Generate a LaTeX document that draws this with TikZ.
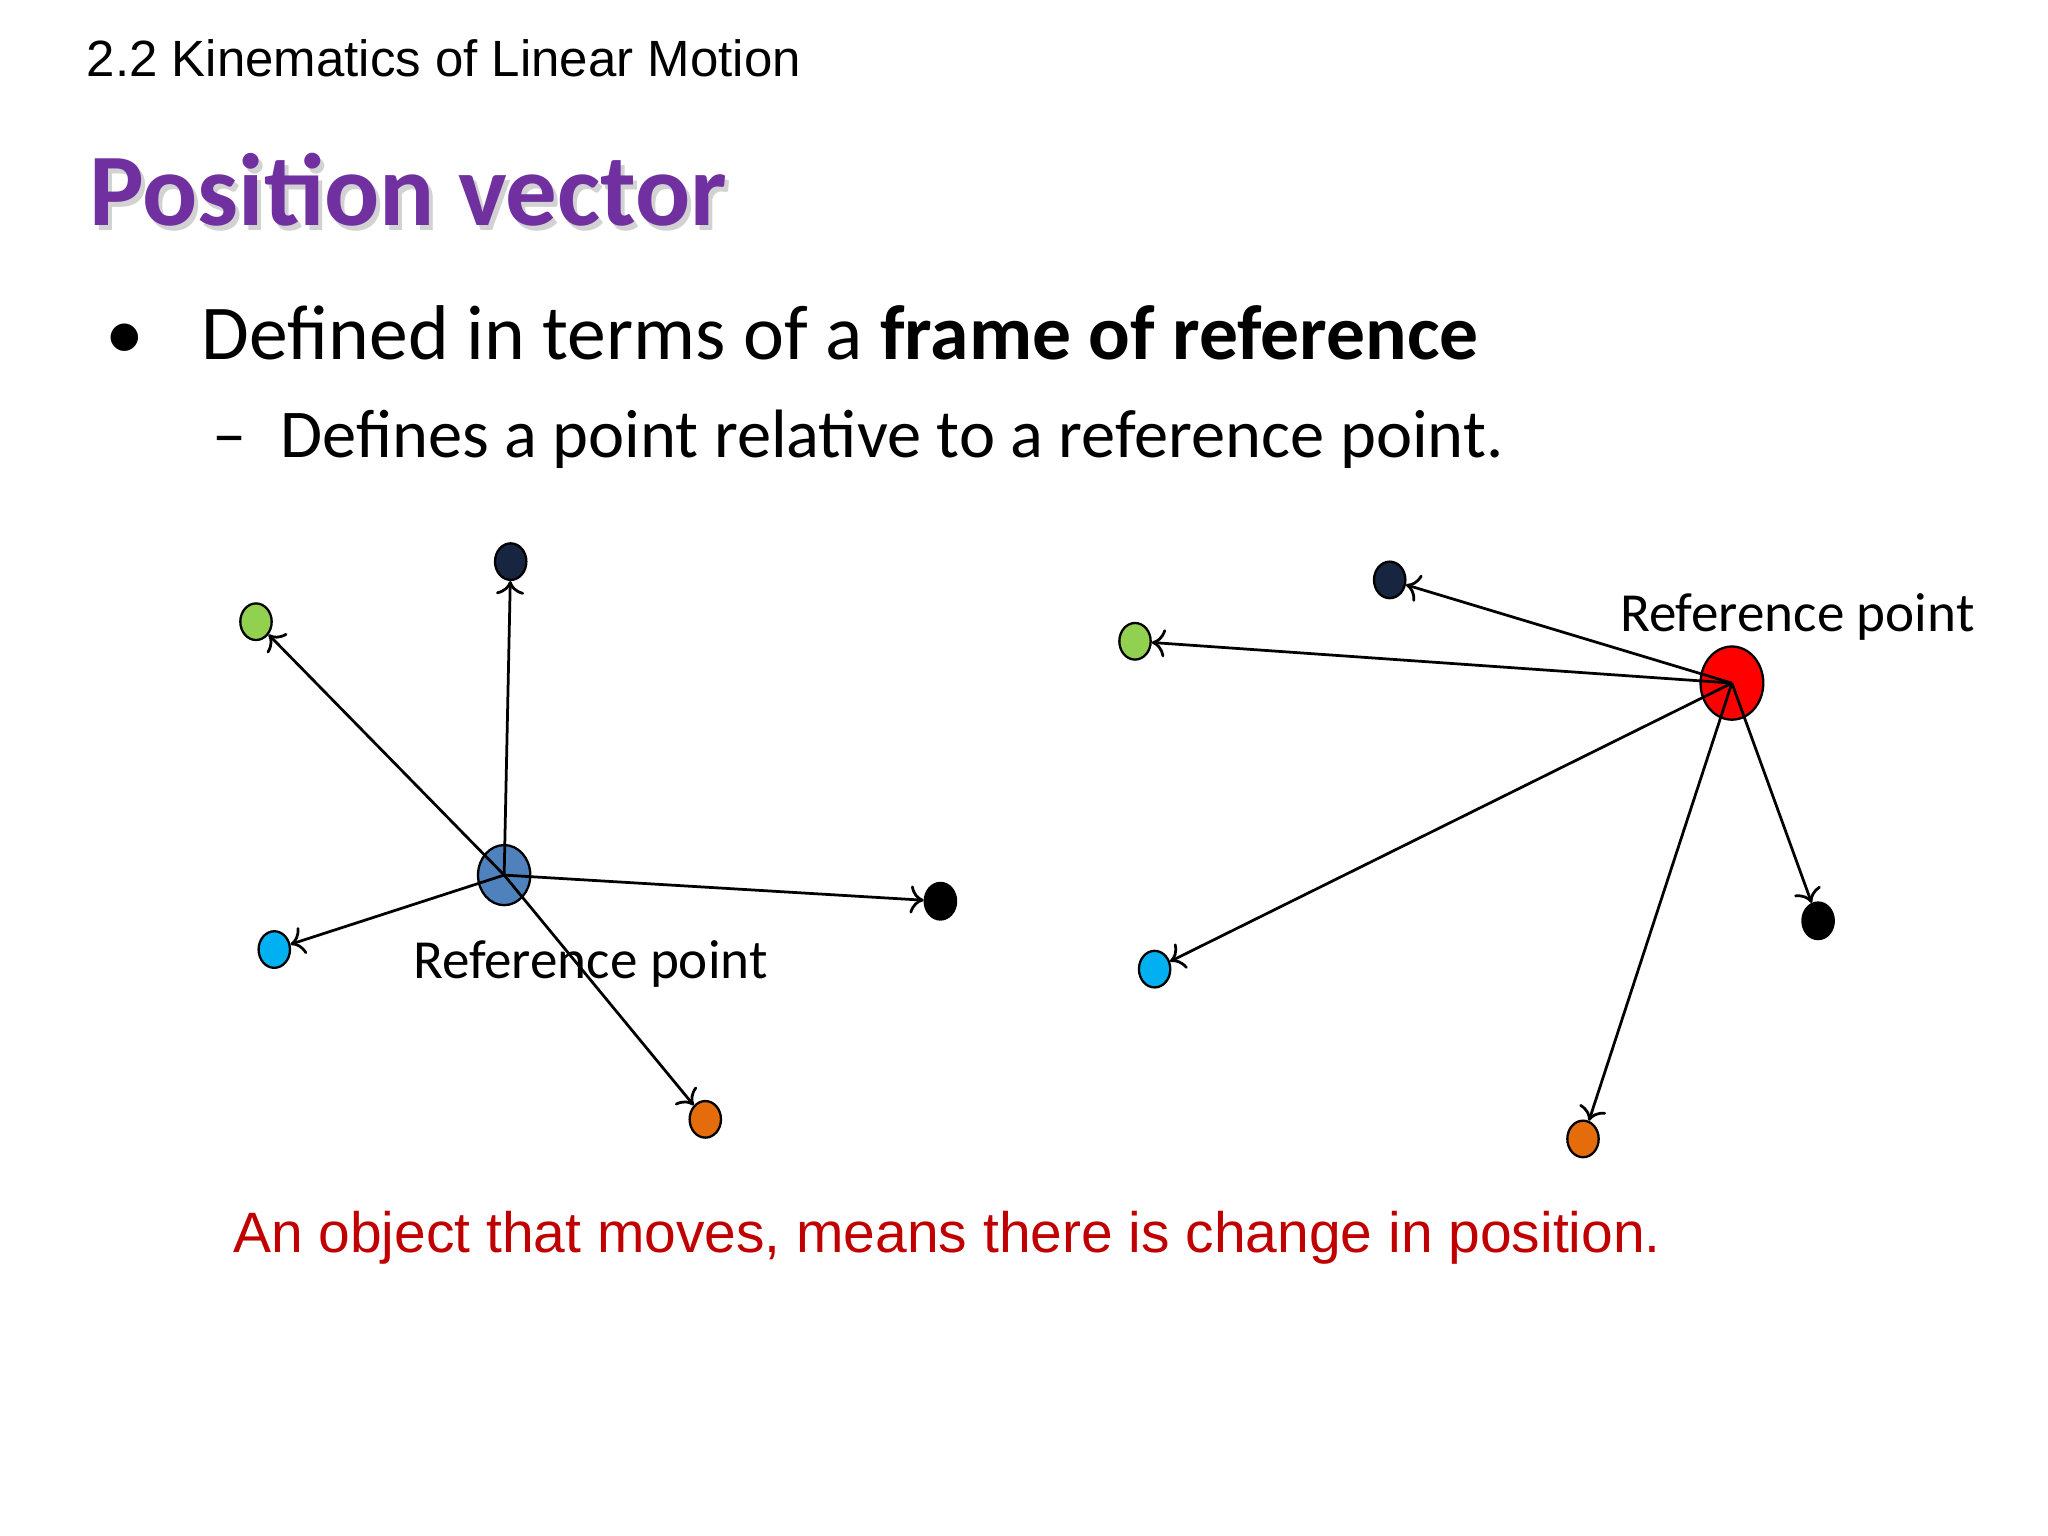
\documentclass[tikz,border=0pt]{standalone}
\usepackage{fontspec}
\setmainfont{Carlito}
\newfontfamily\arialfont{Liberation Sans}
\usetikzlibrary{arrows.meta,shapes.geometric}
\tikzset{>=To}
\tikzset{
  pt/.style={draw,line width=0.5pt,ellipse,inner sep=0pt,minimum width=0.24cm,minimum height=0.28cm},
  refpt/.style={draw,line width=0.5pt,ellipse,inner sep=0pt,minimum width=0.4cm,minimum height=0.46cm},
  vec/.style={->,line width=0.6pt},
  reflabel/.style={font=\fontsize{12}{14}\selectfont}
}
\begin{document}
\begin{tikzpicture}[x=0.01cm,y=-0.01cm]
\useasboundingbox (0,0) rectangle (1568,1176);
\node[anchor=west,font=\arialfont\fontsize{11.1}{13}\selectfont] (head) at (54,45) {2.2 Kinematics of Linear Motion};
\node[anchor=west,font=\bfseries\fontsize{22.4}{26}\selectfont,text=gray!35] at (59,149) {Position vector};
\node[anchor=west,font=\bfseries\fontsize{22.4}{26}\selectfont,text={rgb,255:red,112;green,48;blue,160}] (title) at (56,145) {Position vector};
\node[anchor=west,font=\fontsize{16.9}{20}\selectfont] (bul) at (68,255) {\textbullet\hspace{0.75em}Defined in terms of a \textbf{frame of reference}};
\node[anchor=west,font=\fontsize{14.9}{18}\selectfont] (sub) at (150,336) {--\hspace{0.5em}Defines a point relative to a reference point.};
% left frame
\node[refpt,fill={rgb,255:red,79;green,129;blue,189}] (r1) at (386,670) {};
\node[pt,fill={rgb,255:red,23;green,37;blue,64}] (a1) at (391,430) {};
\node[pt,fill={rgb,255:red,146;green,208;blue,80}] (b1) at (196,476) {};
\node[pt,fill={rgb,255:red,0;green,176;blue,240}] (c1) at (210,727) {};
\node[pt,fill=black] (d1) at (720,690) {};
\node[pt,fill={rgb,255:red,228;green,108;blue,10}] (e1) at (540,857) {};
\foreach \p in {a1,b1,c1,d1,e1}
  \draw[vec] (r1.center) -- (\p);
\node[reflabel] (l1) at (452,738) {Reference point};
% right frame
\node[refpt,minimum width=0.48cm,minimum height=0.56cm,fill=red] (r2) at (1326,523) {};
\node[pt,fill={rgb,255:red,23;green,37;blue,64}] (a2) at (1064,444) {};
\node[pt,fill={rgb,255:red,146;green,208;blue,80}] (b2) at (869,491) {};
\node[pt,fill={rgb,255:red,0;green,176;blue,240}] (c2) at (884,742) {};
\node[pt,fill=black] (d2) at (1392,705) {};
\node[pt,fill={rgb,255:red,228;green,108;blue,10}] (e2) at (1212,872) {};
\foreach \p in {a2,b2,c2,d2,e2}
  \draw[vec] (r2.center) -- (\p);
\node[reflabel] (l2) at (1376,472) {Reference point};
\node[anchor=west,font=\arialfont\fontsize{12.4}{15}\selectfont,text={rgb,255:red,192;green,0;blue,0}] (note) at (166,948) {An object that moves, means there is change in position.};
\end{tikzpicture}
\end{document}
